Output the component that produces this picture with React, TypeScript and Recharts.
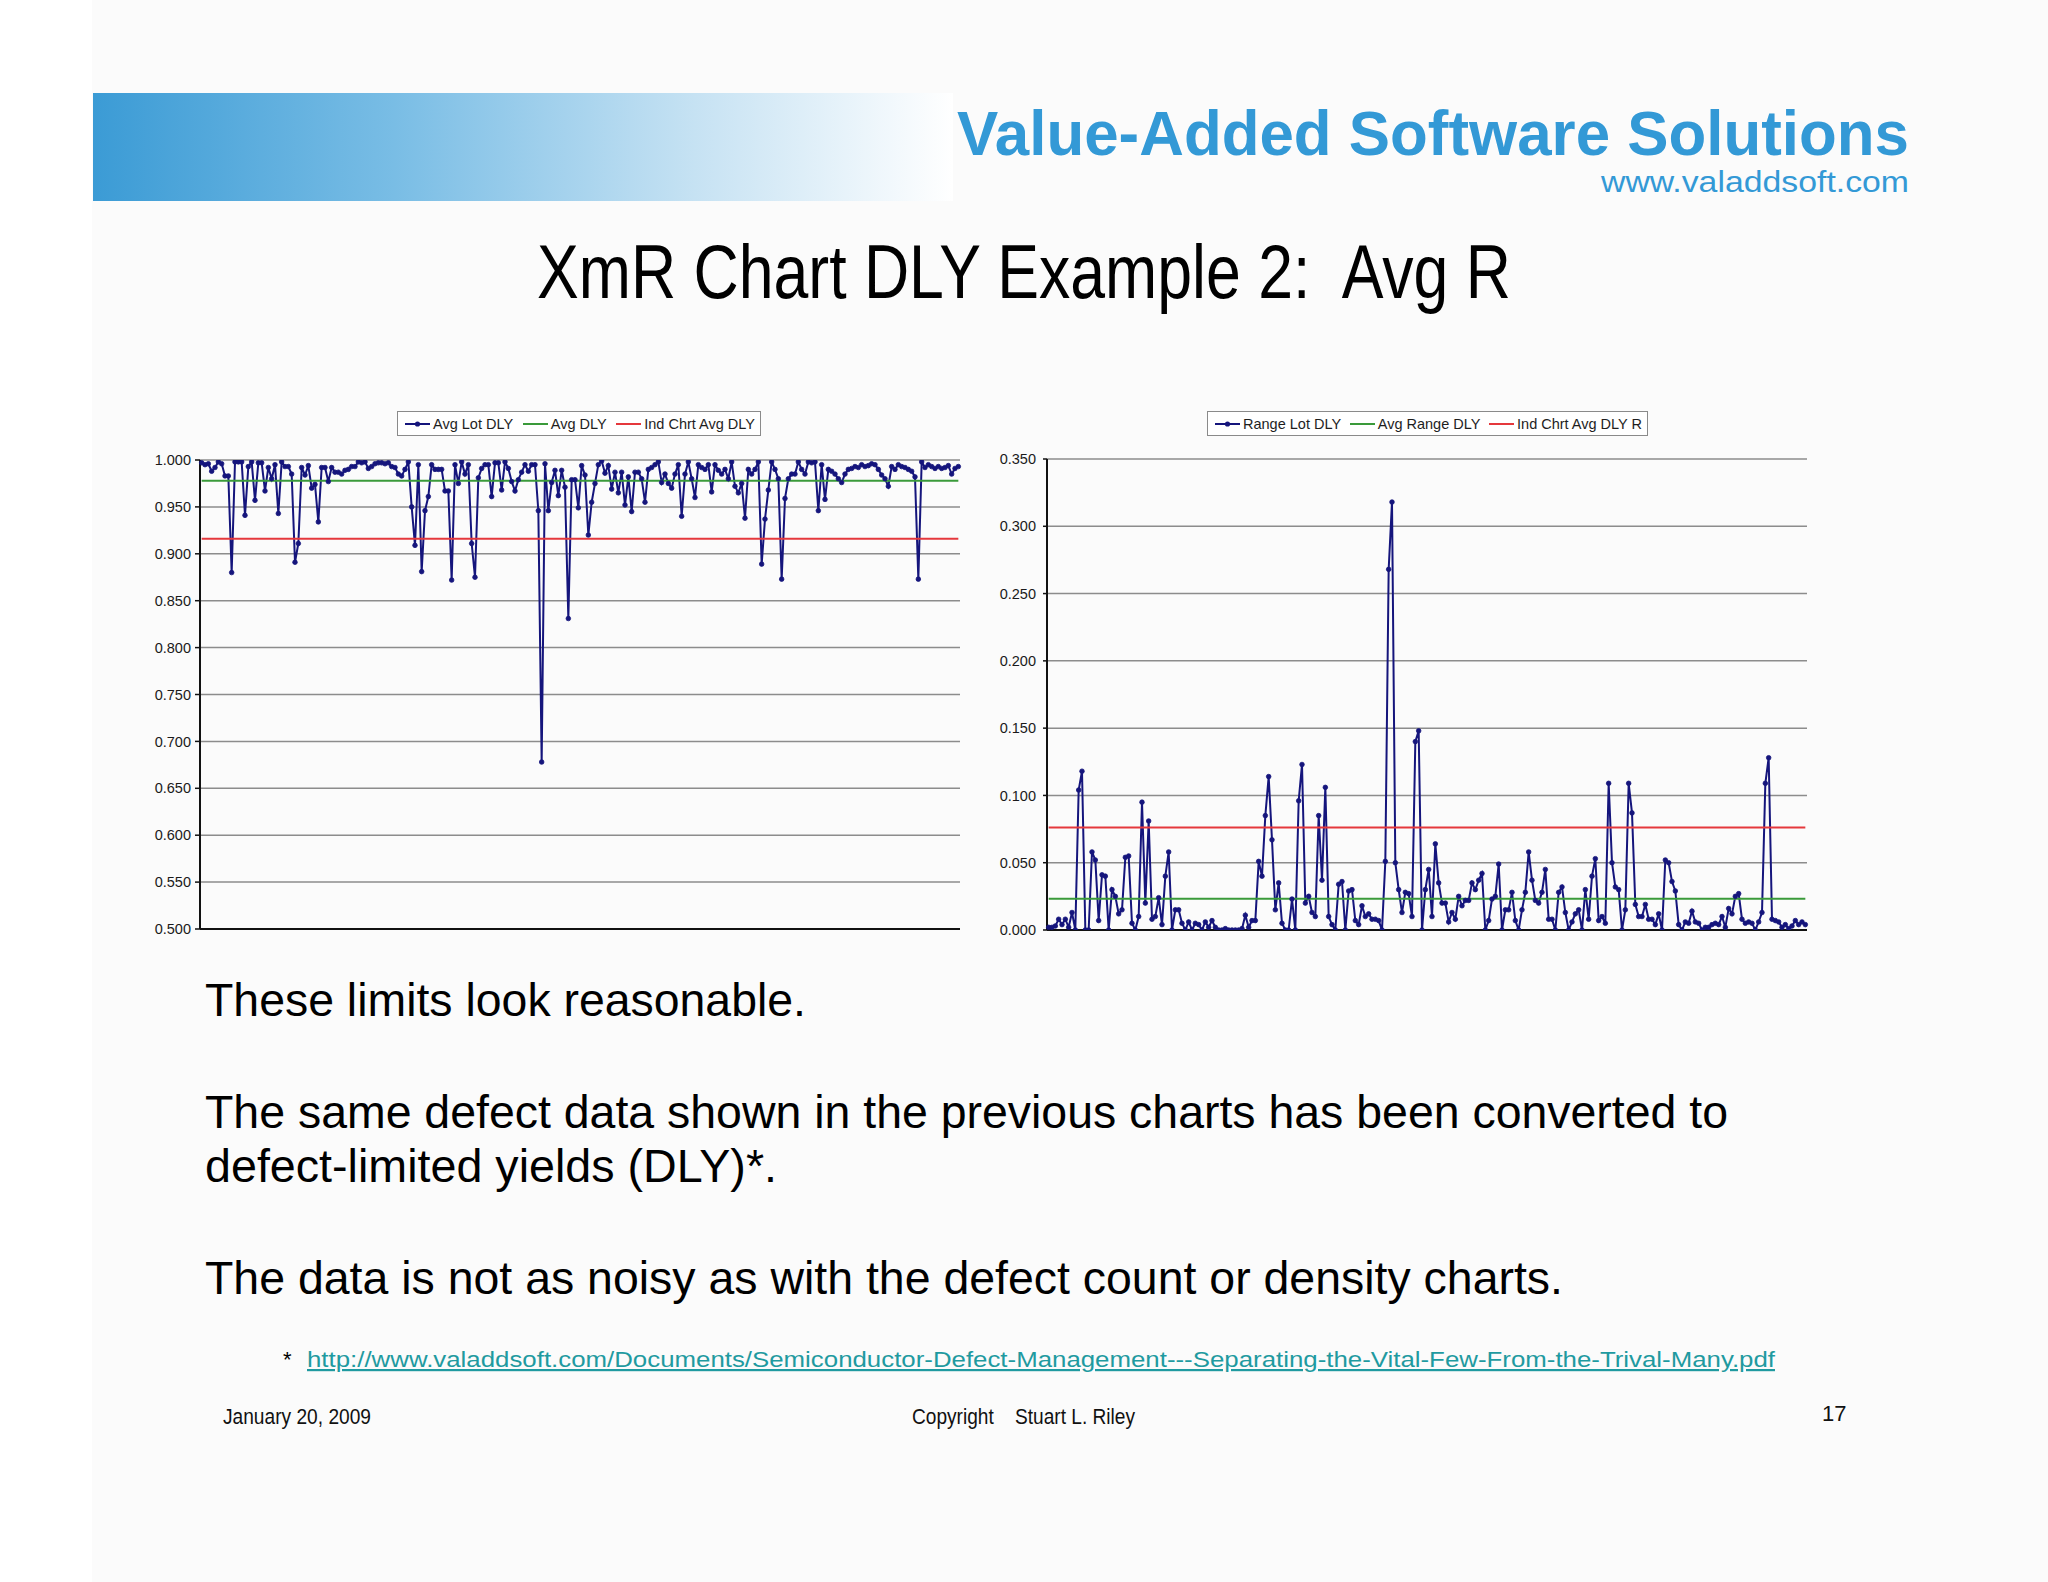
import React from 'react';
import { LineChart, Line, XAxis, YAxis, CartesianGrid, Legend } from 'recharts';

// ---------- data ----------
const AVG_LOT_DLY: number[] = [
  0.997, 0.995, 0.996, 0.988, 0.992, 0.998, 0.996, 0.983, 0.983, 0.880,
  0.998, 0.998, 0.998, 0.941, 0.993, 0.998, 0.957, 0.997, 0.997, 0.967,
  0.992, 0.980, 0.995, 0.943, 0.998, 0.993, 0.993, 0.985, 0.891, 0.911,
  0.992, 0.984, 0.994, 0.970, 0.974, 0.934, 0.992, 0.992, 0.977, 0.992,
  0.987, 0.987, 0.985, 0.989, 0.990, 0.993, 0.993, 0.998, 0.997, 0.998,
  0.991, 0.993, 0.996, 0.997, 0.997, 0.996, 0.997, 0.993, 0.992, 0.985,
  0.983, 0.990, 0.998, 0.950, 0.909, 0.995, 0.881, 0.946, 0.961, 0.995,
  0.990, 0.990, 0.990, 0.967, 0.967, 0.872, 0.995, 0.975, 0.998, 0.985,
  0.995, 0.911, 0.875, 0.981, 0.991, 0.995, 0.995, 0.961, 0.997, 0.997,
  0.968, 0.998, 0.991, 0.977, 0.967, 0.979, 0.987, 0.995, 0.988, 0.995,
  0.995, 0.946, 0.678, 0.996, 0.946, 0.976, 0.989, 0.962, 0.989, 0.971,
  0.831, 0.979, 0.979, 0.949, 0.994, 0.984, 0.920, 0.955, 0.975, 0.995,
  0.999, 0.986, 0.994, 0.969, 0.987, 0.965, 0.987, 0.952, 0.982, 0.945,
  0.987, 0.987, 0.980, 0.955, 0.990, 0.992, 0.995, 0.998, 0.976, 0.985,
  0.975, 0.970, 0.985, 0.995, 0.940, 0.985, 0.998, 0.980, 0.960, 0.995,
  0.992, 0.990, 0.995, 0.966, 0.995, 0.989, 0.985, 0.990, 0.980, 0.998,
  0.972, 0.965, 0.975, 0.938, 0.990, 0.985, 0.990, 0.998, 0.889, 0.937,
  0.968, 0.998, 0.990, 0.980, 0.873, 0.959, 0.980, 0.985, 0.985, 0.998,
  0.990, 0.985, 0.998, 0.997, 0.998, 0.946, 0.995, 0.958, 0.990, 0.988,
  0.985, 0.980, 0.976, 0.985, 0.990, 0.991, 0.993, 0.992, 0.995, 0.993,
  0.994, 0.996, 0.995, 0.990, 0.984, 0.980, 0.972, 0.993, 0.990, 0.995,
  0.993, 0.992, 0.990, 0.988, 0.982, 0.873, 0.998, 0.992, 0.995, 0.993,
  0.991, 0.993, 0.991, 0.992, 0.994, 0.985, 0.991, 0.993,
];

const RANGE_LOT_DLY: number[] = [
  0.002, 0.002, 0.003, 0.008, 0.004, 0.008, 0.002, 0.013, 0.000, 0.104,
  0.118, 0.000, 0.000, 0.058, 0.052, 0.007, 0.041, 0.040, 0.000, 0.030,
  0.025, 0.012, 0.015, 0.054, 0.055, 0.005, 0.000, 0.010, 0.095, 0.020,
  0.081, 0.008, 0.010, 0.024, 0.004, 0.040, 0.058, 0.000, 0.015, 0.015,
  0.005, 0.000, 0.006, 0.000, 0.005, 0.004, 0.000, 0.006, 0.002, 0.007,
  0.002, 0.000, 0.000, 0.001, 0.000, 0.000, 0.000, 0.000, 0.001, 0.011,
  0.002, 0.007, 0.007, 0.051, 0.040, 0.085, 0.114, 0.067, 0.015, 0.035,
  0.005, 0.000, 0.000, 0.023, 0.000, 0.096, 0.123, 0.020, 0.025, 0.013,
  0.010, 0.085, 0.037, 0.106, 0.010, 0.004, 0.000, 0.034, 0.036, 0.000,
  0.029, 0.030, 0.007, 0.004, 0.018, 0.010, 0.012, 0.008, 0.008, 0.007,
  0.000, 0.051, 0.268, 0.318, 0.050, 0.030, 0.013, 0.028, 0.027, 0.010,
  0.140, 0.148, 0.000, 0.030, 0.045, 0.010, 0.064, 0.035, 0.020, 0.020,
  0.006, 0.013, 0.008, 0.025, 0.018, 0.022, 0.022, 0.035, 0.030, 0.037,
  0.042, 0.000, 0.007, 0.023, 0.025, 0.049, 0.000, 0.015, 0.015, 0.028,
  0.007, 0.000, 0.015, 0.028, 0.058, 0.037, 0.022, 0.020, 0.028, 0.045,
  0.008, 0.008, 0.000, 0.028, 0.032, 0.013, 0.000, 0.006, 0.012, 0.015,
  0.000, 0.030, 0.008, 0.040, 0.053, 0.007, 0.010, 0.005, 0.109, 0.050,
  0.032, 0.030, 0.000, 0.015, 0.109, 0.087, 0.019, 0.010, 0.010, 0.019,
  0.008, 0.008, 0.004, 0.012, 0.000, 0.052, 0.050, 0.036, 0.029, 0.004,
  0.000, 0.006, 0.005, 0.014, 0.006, 0.005, 0.000, 0.002, 0.002, 0.004,
  0.005, 0.004, 0.010, 0.002, 0.016, 0.012, 0.025, 0.027, 0.008, 0.005,
  0.006, 0.005, 0.000, 0.006, 0.013, 0.109, 0.128, 0.008, 0.007, 0.006,
  0.002, 0.004, 0.001, 0.003, 0.007, 0.004, 0.006, 0.004,
];

const AVG_DLY = 0.978;
const IND_CHRT_AVG_DLY = 0.916;
const AVG_RANGE_DLY = 0.0233;
const IND_CHRT_AVG_DLY_R = 0.0762;

const LEFT_TICKS = [0.5, 0.55, 0.6, 0.65, 0.7, 0.75, 0.8, 0.85, 0.9, 0.95, 1.0];
const RIGHT_TICKS = [0, 0.05, 0.1, 0.15, 0.2, 0.25, 0.3, 0.35];

const LEFT_NAMES = ['Avg Lot DLY', 'Avg DLY', 'Ind Chrt Avg DLY'];
const RIGHT_NAMES = ['Range Lot DLY', 'Avg Range DLY', 'Ind Chrt Avg DLY R'];

// ---------- styles ----------
const FONT = '"Liberation Sans", Arial, Helvetica, sans-serif';
const NARROW = '"Liberation Sans Narrow", "Arial Narrow", "Liberation Sans", Arial, sans-serif';
const NAVY = '#15157c';
const GREEN = '#3a9a3a';
const RED = '#e5383c';
const GRID = '#8c8c8c';
const BLUE = '#3399d6';

const leftRows = AVG_LOT_DLY.map((v, i) => ({ i, v, avg: AVG_DLY, lim: IND_CHRT_AVG_DLY }));
const rightRows = RANGE_LOT_DLY.map((v, i) => ({ i, v, avg: AVG_RANGE_DLY, lim: IND_CHRT_AVG_DLY_R }));

const makeLegend = (width: number, order: string[]) => (props: any) => {
  const raw = props.payload || [];
  const items = [...raw].sort((a: any, b: any) => order.indexOf(a.value) - order.indexOf(b.value));
  return (
    <div
      style={{
        width,
        height: 25,
        boxSizing: 'border-box',
        border: '1.5px solid #8a8a8a',
        background: '#ffffff',
        display: 'flex',
        alignItems: 'center',
        justifyContent: 'space-between',
        padding: '0 5px 0 6px',
        fontFamily: FONT,
        fontSize: 14.5,
        color: '#1e1e1e',
        whiteSpace: 'nowrap',
      }}
    >
      {items.map((it: any, k: number) => (
        <span key={k} style={{ display: 'inline-flex', alignItems: 'center' }}>
          <svg width={27} height={10} style={{ display: 'block' }}>
            <line x1={1} x2={26} y1={5} y2={5} stroke={it.color} strokeWidth={2} />
            {it.dataKey === 'v' && <circle cx={13.5} cy={5} r={2.6} fill={it.color} />}
          </svg>
          <span style={{ marginLeft: 2 }}>{it.value}</span>
        </span>
      ))}
    </div>
  );
};

const N = AVG_LOT_DLY.length;

function ControlChart(props: {
  rows: any[];
  names: string[];
  ticks: number[];
  domain: [number, number];
  margin: any;
  legendLeft: number;
  legendWidth: number;
  tickSize: number;
  tickMargin: number;
}) {
  const { rows, names, ticks, domain, margin, legendLeft, legendWidth, tickSize, tickMargin } = props;
  return (
    <LineChart width={900} height={560} data={rows} margin={margin}>
      <CartesianGrid vertical={false} stroke={GRID} strokeWidth={1.5} />
      <XAxis
        dataKey="i"
        type="number"
        domain={[-0.5, N - 0.5]}
        tick={false}
        tickLine={false}
        height={1}
        axisLine={{ stroke: '#111', strokeWidth: 2 }}
      />
      <YAxis
        type="number"
        domain={domain}
        ticks={ticks}
        interval={0}
        width={60}
        allowDataOverflow
        tickFormatter={(v: number) => v.toFixed(3)}
        tick={{ fontSize: 14.5, fill: '#1a1a1a', fontFamily: FONT }}
        tickSize={tickSize}
        tickMargin={tickMargin}
        axisLine={{ stroke: '#111', strokeWidth: 2 }}
        tickLine={{ stroke: '#111', strokeWidth: 1.5 }}
      />
      <Legend
        layout="vertical"
        verticalAlign="middle"
        align="center"
        content={makeLegend(legendWidth, names)}
        wrapperStyle={{ left: legendLeft, top: 11, width: legendWidth, height: 25 }}
      />
      <Line
        dataKey="v"
        name={names[0]}
        stroke={NAVY}
        strokeWidth={2}
        dot={{ r: 2.3, fill: NAVY, stroke: NAVY, strokeWidth: 0.8 }}
        isAnimationActive={false}
      />
      <Line dataKey="avg" name={names[1]} stroke={GREEN} strokeWidth={2} dot={false} isAnimationActive={false} />
      <Line dataKey="lim" name={names[2]} stroke={RED} strokeWidth={2} dot={false} isAnimationActive={false} />
    </LineChart>
  );
}

export default function App() {
  return (
    <div style={{ position: 'absolute', left: 0, top: 0, width: 2048, height: 1582, background: '#ffffff', overflow: 'hidden' }}>
      <svg width={2048} height={1582} style={{ position: 'absolute', left: 0, top: 0 }}>
        <defs>
          <linearGradient id="band" x1="0" y1="0" x2="1" y2="0">
            <stop offset="0%" stopColor="#3b9bd5" />
            <stop offset="35%" stopColor="#79bde5" />
            <stop offset="70%" stopColor="#c6e2f3" />
            <stop offset="100%" stopColor="#ffffff" />
          </linearGradient>
        </defs>
        <rect x={92} y={0} width={1956} height={1582} fill="#fbfbfb" />
        <rect x={93} y={93} width={860} height={108} fill="url(#band)" />
        <text x={957} y={155} fontFamily={FONT} fontWeight={700} fontSize={63} fill={BLUE} textLength={952} lengthAdjust="spacingAndGlyphs">
          Value-Added Software Solutions
        </text>
        <text x={1601} y={192} fontFamily={FONT} fontSize={30} fill={BLUE} textLength={308} lengthAdjust="spacingAndGlyphs">
          www.valaddsoft.com
        </text>
        <text x={537} y={298} fontFamily={NARROW} fontSize={76} fill="#000" textLength={974} lengthAdjust="spacingAndGlyphs" style={{ whiteSpace: 'pre' }}>
          {'XmR Chart DLY Example 2:  Avg R'}
        </text>
        <text x={205} y={1016} fontFamily={FONT} fontSize={46} fill="#000" textLength={601} lengthAdjust="spacingAndGlyphs">
          These limits look reasonable.
        </text>
        <text x={205} y={1128} fontFamily={FONT} fontSize={46} fill="#000" textLength={1523} lengthAdjust="spacingAndGlyphs">
          The same defect data shown in the previous charts has been converted to
        </text>
        <text x={205} y={1182} fontFamily={FONT} fontSize={46} fill="#000" textLength={572} lengthAdjust="spacingAndGlyphs">
          defect-limited yields (DLY)*.
        </text>
        <text x={205} y={1294} fontFamily={FONT} fontSize={46} fill="#000" textLength={1358} lengthAdjust="spacingAndGlyphs">
          The data is not as noisy as with the defect count or density charts.
        </text>
        <text x={283} y={1367} fontFamily={FONT} fontSize={22} fill="#000">*</text>
        <text x={307} y={1367} fontFamily={FONT} fontSize={22} fill="#1f9aa0" textLength={1468} lengthAdjust="spacingAndGlyphs" style={{ textDecoration: 'underline' }}>
          http://www.valaddsoft.com/Documents/Semiconductor-Defect-Management---Separating-the-Vital-Few-From-the-Trival-Many.pdf
        </text>
        <text x={223} y={1424} fontFamily={NARROW} fontSize={22} fill="#111" textLength={148} lengthAdjust="spacingAndGlyphs">
          January 20, 2009
        </text>
        <text x={912} y={1424} fontFamily={NARROW} fontSize={22} fill="#111" textLength={223} lengthAdjust="spacingAndGlyphs" style={{ whiteSpace: 'pre' }}>
          {'Copyright    Stuart L. Riley'}
        </text>
        <text x={1822} y={1421} fontFamily={NARROW} fontSize={22} fill="#111">17</text>
      </svg>

      <div style={{ position: 'absolute', left: 100, top: 400, width: 900, height: 560 }}>
        <ControlChart
          rows={leftRows}
          names={LEFT_NAMES}
          ticks={LEFT_TICKS}
          domain={[0.5, 1.0]}
          margin={{ top: 60, right: 40, bottom: 30, left: 40 }}
          legendLeft={297}
          legendWidth={364}
          tickSize={5}
          tickMargin={4}
        />
      </div>
      <div style={{ position: 'absolute', left: 950, top: 400, width: 900, height: 560 }}>
        <ControlChart
          rows={rightRows}
          names={RIGHT_NAMES}
          ticks={RIGHT_TICKS}
          domain={[0, 0.35]}
          margin={{ top: 59, right: 43, bottom: 29, left: 37 }}
          legendLeft={257}
          legendWidth={441}
          tickSize={4}
          tickMargin={7}
        />
      </div>
    </div>
  );
}
